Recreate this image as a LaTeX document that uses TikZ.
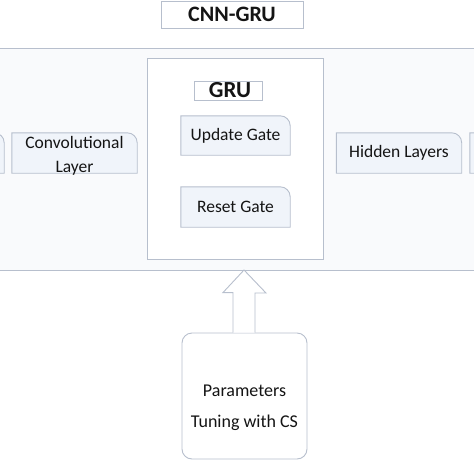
\documentclass[tikz,border=0pt]{standalone}
\usepackage{fontspec}
\setmainfont{Carlito}
\usetikzlibrary{positioning,backgrounds}

\definecolor{edgegray}{HTML}{B7BFCD}
\definecolor{boxfill}{HTML}{F0F4FA}
\definecolor{panelfill}{HTML}{F9FAFC}
\definecolor{txt}{HTML}{141414}

\tikzset{
  label box/.style={draw=edgegray, line width=0.9pt, fill=white, inner sep=0pt,
    font=\bfseries\fontsize{22}{24}\selectfont, text=txt},
  layer/.style={minimum width=125pt, minimum height=40pt, inner sep=0pt,
    align=center, font=\fontsize{17.5}{24}\selectfont, text=txt},
  gate/.style={layer, minimum width=109pt, minimum height=39pt},
  snip/.style={draw=edgegray, line width=0.9pt, fill=boxfill}
}

\begin{document}
\begin{tikzpicture}[x=1pt,y=-1pt]
\useasboundingbox (0,0) rectangle (474,474);
\clip (0,0) rectangle (474,474);

%Titel
\node[label box, minimum width=142pt, minimum height=27pt] (title) at (232,14.5) {CNN-GRU};

%Schichten im Rahmen
\node[layer] (left)   at (-58.5,153) {};
\node[layer] (conv)   at (74.5,153)  {};
\node[layer] (convtext) at (74.5,156) {Convolutional\\Layer};
\node[layer] (hidden) at (399,153)   {Hidden Layers};
\node[layer] (right)  at (532.5,153) {};

%GRU
\node[minimum width=175pt, minimum height=200pt, inner sep=0pt] (gru) at (235.5,159) {};
\node[label box, minimum width=68pt, minimum height=19pt,
  font=\bfseries\fontsize{23}{25}\selectfont] (grulabel) at (228,90.5) {\hspace{4pt}GRU};
\node[gate] (update) at (235.5,135.5) {Update Gate};
\node[gate, minimum height=40pt] (reset) at (235.5,207) {Reset Gate};

%Parameter
\node[draw=edgegray, line width=0.9pt, fill=white, rounded corners=10pt,
  minimum width=125pt, minimum height=126pt, inner sep=0pt] (param) at (244.5,396) {};
\node[align=center, inner sep=0pt, font=\fontsize{18}{31}\selectfont, text=txt]
  (paramtext) at (244.5,408) {Parameters\\Tuning with CS};

\begin{scope}[on background layer]
\draw[draw=edgegray, line width=0.9pt, fill=panelfill] (-10,48) rectangle (484,270);
\draw[draw=edgegray, line width=0.9pt, fill=white] (gru.south west) rectangle (gru.north east);
\foreach \n in {left,conv,hidden,right,update,reset}
  \draw[snip] (\n.south west) -- (\n.north west) -- ([xshift=-10pt]\n.north east)
    arc[start angle=90, end angle=0, radius=10pt] -- (\n.south east) -- cycle;
\end{scope}

%Pfeil nach oben
\coordinate (tip) at (244,270);
\draw[draw=edgegray, line width=0.9pt, fill=white]
  ([xshift=-11.5pt]param.north) -- ++(0,-40) -- ++(-10,0) -- (tip)
  -- ++(22,23) -- ++(-11,0) -- ([xshift=10.5pt]param.north);
\end{tikzpicture}
\end{document}
